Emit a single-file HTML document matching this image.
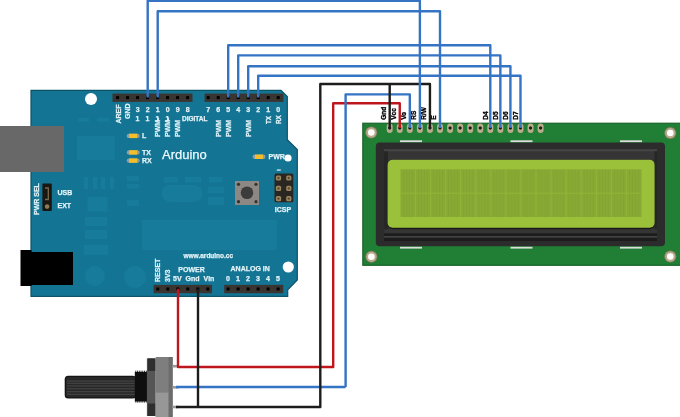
<!DOCTYPE html>
<html><head><meta charset="utf-8">
<style>
html,body{margin:0;padding:0;background:#fff;width:680px;height:417px;overflow:hidden}
svg{display:block;font-family:"Liberation Sans",sans-serif;filter:blur(0.35px)}
</style></head><body>
<svg width="680" height="417" viewBox="0 0 680 417">
<rect width="680" height="417" fill="#fff"/>
<polygon points="31,90.3 281,90.3 287.3,96.6 287.3,139.7 297.3,149.5 297.3,280 287.7,289.8 287.7,296.3 31,296.3" fill="#137493" stroke="#0d5366" stroke-width="1.2"/>
<rect x="76.8" y="136" width="38" height="24" fill="#177c9b"/>
<rect x="78" y="118" width="11" height="3.6" fill="#177c9b"/>
<rect x="97" y="118" width="12" height="3.6" fill="#177c9b"/>
<rect x="84" y="177" width="4" height="12" fill="#177c9b"/>
<rect x="93" y="177" width="4" height="12" fill="#177c9b"/>
<rect x="101" y="177" width="4" height="12" fill="#177c9b"/>
<rect x="110" y="177" width="4" height="12" fill="#177c9b"/>
<rect x="87.5" y="197" width="20" height="14.6" fill="#177c9b"/>
<rect x="85" y="217" width="22" height="9" fill="#177c9b"/>
<rect x="85" y="230" width="22" height="9" fill="#177c9b"/>
<rect x="84" y="244.6" width="24" height="10" fill="#177c9b"/>
<rect x="141.7" y="220" width="135" height="30" fill="#177c9b"/>
<rect x="127" y="176" width="12" height="5" fill="#177c9b"/>
<rect x="127" y="184" width="12" height="4.5" fill="#177c9b"/>
<rect x="127" y="199.7" width="12" height="6.3" fill="#177c9b"/>
<rect x="164" y="177" width="13.5" height="5.5" fill="#177c9b"/>
<rect x="185" y="177" width="16" height="5.5" fill="#177c9b"/>
<rect x="209" y="177" width="13.5" height="5.5" fill="#177c9b"/>
<rect x="208" y="186.5" width="16" height="6.5" fill="#177c9b"/>
<rect x="208" y="197" width="16" height="8" fill="#177c9b"/>
<rect x="161.6" y="185" width="41" height="17" rx="8.5" fill="#177c9b"/>
<circle cx="95" cy="276" r="10" fill="#177c9b"/>
<circle cx="135" cy="277" r="11" fill="#177c9b"/>
<rect x="0" y="126" width="64" height="46" fill="#686868"/>
<rect x="20.5" y="250" width="11" height="36" fill="#000"/>
<rect x="31" y="252" width="42" height="33" fill="#000"/>
<circle cx="91" cy="99" r="6" fill="#fff"/>
<circle cx="288" cy="158" r="3.6" fill="#fff"/>
<circle cx="288.3" cy="267" r="5.6" fill="#fff"/>
<rect x="112.5" y="93.6" width="80" height="8.3" fill="#3a3531"/>
<rect x="116.1" y="96.1" width="3" height="3" fill="#000"/>
<rect x="126.1" y="96.1" width="3" height="3" fill="#000"/>
<rect x="136.1" y="96.1" width="3" height="3" fill="#000"/>
<rect x="146.1" y="96.1" width="3" height="3" fill="#000"/>
<rect x="156.1" y="96.1" width="3" height="3" fill="#000"/>
<rect x="166.1" y="96.1" width="3" height="3" fill="#000"/>
<rect x="176.1" y="96.1" width="3" height="3" fill="#000"/>
<rect x="186.1" y="96.1" width="3" height="3" fill="#000"/>
<rect x="204.6" y="93.6" width="78.8" height="8.3" fill="#3a3531"/>
<rect x="206.7" y="96.1" width="3" height="3" fill="#000"/>
<rect x="216.7" y="96.1" width="3" height="3" fill="#000"/>
<rect x="226.7" y="96.1" width="3" height="3" fill="#000"/>
<rect x="236.7" y="96.1" width="3" height="3" fill="#000"/>
<rect x="246.7" y="96.1" width="3" height="3" fill="#000"/>
<rect x="256.7" y="96.1" width="3" height="3" fill="#000"/>
<rect x="266.7" y="96.1" width="3" height="3" fill="#000"/>
<rect x="276.7" y="96.1" width="3" height="3" fill="#000"/>
<rect x="153.6" y="284.9" width="58.4" height="8.3" fill="#3a3531"/>
<rect x="156.3" y="287.5" width="3" height="3" fill="#000"/>
<rect x="166.3" y="287.5" width="3" height="3" fill="#000"/>
<rect x="176.3" y="287.5" width="3" height="3" fill="#000"/>
<rect x="186.3" y="287.5" width="3" height="3" fill="#000"/>
<rect x="196.3" y="287.5" width="3" height="3" fill="#000"/>
<rect x="206.3" y="287.5" width="3" height="3" fill="#000"/>
<rect x="224.2" y="284.9" width="59" height="8.3" fill="#3a3531"/>
<rect x="226.6" y="287.5" width="3" height="3" fill="#000"/>
<rect x="236.6" y="287.5" width="3" height="3" fill="#000"/>
<rect x="246.6" y="287.5" width="3" height="3" fill="#000"/>
<rect x="256.6" y="287.5" width="3" height="3" fill="#000"/>
<rect x="266.6" y="287.5" width="3" height="3" fill="#000"/>
<rect x="276.6" y="287.5" width="3" height="3" fill="#000"/>
<text transform="translate(121.2,123.5) rotate(-90)" font-size="7" font-weight="bold" fill="#e2f3f8" stroke="#e2f3f8" stroke-width="0.25" text-anchor="start">AREF</text>
<text transform="translate(130.2,119) rotate(-90)" font-size="7" font-weight="bold" fill="#e2f3f8" stroke="#e2f3f8" stroke-width="0.25" text-anchor="start">GND</text>
<text x="137.6" y="112" font-size="7" font-weight="bold" fill="#e2f3f8" stroke="#e2f3f8" stroke-width="0.25" text-anchor="middle">3</text>
<text x="147.6" y="112" font-size="7" font-weight="bold" fill="#e2f3f8" stroke="#e2f3f8" stroke-width="0.25" text-anchor="middle">2</text>
<text x="157.6" y="112" font-size="7" font-weight="bold" fill="#e2f3f8" stroke="#e2f3f8" stroke-width="0.25" text-anchor="middle">1</text>
<text x="167.6" y="112" font-size="7" font-weight="bold" fill="#e2f3f8" stroke="#e2f3f8" stroke-width="0.25" text-anchor="middle">0</text>
<text x="177.6" y="112" font-size="7" font-weight="bold" fill="#e2f3f8" stroke="#e2f3f8" stroke-width="0.25" text-anchor="middle">9</text>
<text x="187.6" y="112" font-size="7" font-weight="bold" fill="#e2f3f8" stroke="#e2f3f8" stroke-width="0.25" text-anchor="middle">8</text>
<text x="137.5" y="121" font-size="7" font-weight="bold" fill="#e2f3f8" stroke="#e2f3f8" stroke-width="0.25" text-anchor="middle">1</text>
<text x="147.5" y="121" font-size="7" font-weight="bold" fill="#e2f3f8" stroke="#e2f3f8" stroke-width="0.25" text-anchor="middle">1</text>
<text x="157.5" y="121" font-size="7" font-weight="bold" fill="#e2f3f8" stroke="#e2f3f8" stroke-width="0.25" text-anchor="middle">1</text>
<text x="167.5" y="121" font-size="7" font-weight="bold" fill="#e2f3f8" stroke="#e2f3f8" stroke-width="0.25" text-anchor="middle">1</text>
<text transform="translate(159.5,137) rotate(-90)" font-size="7" font-weight="bold" fill="#e2f3f8" stroke="#e2f3f8" stroke-width="0.25" text-anchor="start">PWM-</text>
<text transform="translate(169.5,137) rotate(-90)" font-size="7" font-weight="bold" fill="#e2f3f8" stroke="#e2f3f8" stroke-width="0.25" text-anchor="start">PWM-</text>
<text transform="translate(179.5,137) rotate(-90)" font-size="7" font-weight="bold" fill="#e2f3f8" stroke="#e2f3f8" stroke-width="0.25" text-anchor="start">PWM</text>
<text x="182" y="121" font-size="6.5" font-weight="bold" fill="#e2f3f8" stroke="#e2f3f8" stroke-width="0.25" text-anchor="start">DIGITAL</text>
<text x="208.2" y="112" font-size="7" font-weight="bold" fill="#e2f3f8" stroke="#e2f3f8" stroke-width="0.25" text-anchor="middle">7</text>
<text x="218.2" y="112" font-size="7" font-weight="bold" fill="#e2f3f8" stroke="#e2f3f8" stroke-width="0.25" text-anchor="middle">6</text>
<text x="228.2" y="112" font-size="7" font-weight="bold" fill="#e2f3f8" stroke="#e2f3f8" stroke-width="0.25" text-anchor="middle">5</text>
<text x="238.2" y="112" font-size="7" font-weight="bold" fill="#e2f3f8" stroke="#e2f3f8" stroke-width="0.25" text-anchor="middle">4</text>
<text x="248.2" y="112" font-size="7" font-weight="bold" fill="#e2f3f8" stroke="#e2f3f8" stroke-width="0.25" text-anchor="middle">3</text>
<text x="258.2" y="112" font-size="7" font-weight="bold" fill="#e2f3f8" stroke="#e2f3f8" stroke-width="0.25" text-anchor="middle">2</text>
<text x="268.2" y="112" font-size="7" font-weight="bold" fill="#e2f3f8" stroke="#e2f3f8" stroke-width="0.25" text-anchor="middle">1</text>
<text x="278.2" y="112" font-size="7" font-weight="bold" fill="#e2f3f8" stroke="#e2f3f8" stroke-width="0.25" text-anchor="middle">0</text>
<text transform="translate(220.8,137) rotate(-90)" font-size="7" font-weight="bold" fill="#e2f3f8" stroke="#e2f3f8" stroke-width="0.25" text-anchor="start">PWM</text>
<text transform="translate(230.8,137) rotate(-90)" font-size="7" font-weight="bold" fill="#e2f3f8" stroke="#e2f3f8" stroke-width="0.25" text-anchor="start">PWM</text>
<text transform="translate(250.8,137) rotate(-90)" font-size="7" font-weight="bold" fill="#e2f3f8" stroke="#e2f3f8" stroke-width="0.25" text-anchor="start">PWM</text>
<text transform="translate(271,124) rotate(-90)" font-size="6.3" font-weight="bold" fill="#e2f3f8" stroke="#e2f3f8" stroke-width="0.25" text-anchor="start">TX</text>
<text transform="translate(281,124) rotate(-90)" font-size="6.3" font-weight="bold" fill="#e2f3f8" stroke="#e2f3f8" stroke-width="0.25" text-anchor="start">RX</text>
<rect x="126.7" y="133.70000000000002" width="13" height="4.4" rx="2.2" fill="#8d9ea3"/>
<rect x="129.2" y="133.70000000000002" width="8" height="4.4" fill="#f4bd2a"/>
<text x="142" y="138" font-size="7" font-weight="bold" fill="#e2f3f8" stroke="#e2f3f8" stroke-width="0.25" text-anchor="start">L</text>
<rect x="126.7" y="150.20000000000002" width="13" height="4.4" rx="2.2" fill="#8d9ea3"/>
<rect x="129.2" y="150.20000000000002" width="8" height="4.4" fill="#f4bd2a"/>
<text x="142" y="155" font-size="7" font-weight="bold" fill="#e2f3f8" stroke="#e2f3f8" stroke-width="0.25" text-anchor="start">TX</text>
<rect x="126.7" y="158.4" width="13" height="4.4" rx="2.2" fill="#8d9ea3"/>
<rect x="129.2" y="158.4" width="8" height="4.4" fill="#f4bd2a"/>
<text x="142" y="163" font-size="7" font-weight="bold" fill="#e2f3f8" stroke="#e2f3f8" stroke-width="0.25" text-anchor="start">RX</text>
<rect x="252.5" y="154.60000000000002" width="13" height="4.4" rx="2.2" fill="#8d9ea3"/>
<rect x="255.0" y="154.60000000000002" width="8" height="4.4" fill="#f4bd2a"/>
<text x="268.5" y="159" font-size="7" font-weight="bold" fill="#e2f3f8" stroke="#e2f3f8" stroke-width="0.25" text-anchor="start">PWR</text>
<text x="162" y="159" font-size="13" fill="#eefaff" stroke="#eefaff" stroke-width="0.25">Arduino</text>
<rect x="235" y="181" width="24" height="24" fill="#8d8883"/>
<circle cx="238.5" cy="184.3" r="1.6" fill="#333"/>
<circle cx="256" cy="184.3" r="1.6" fill="#333"/>
<circle cx="238.5" cy="201.7" r="1.6" fill="#333"/>
<circle cx="256" cy="201.7" r="1.6" fill="#333"/>
<circle cx="247" cy="192.8" r="6.3" fill="#3c3c3c"/>
<rect x="274.5" y="173.6" width="18.8" height="28.6" rx="1.5" fill="#2a2723"/>
<rect x="275.9" y="175.4" width="5.2" height="5.2" rx="1.5" fill="#9c8660"/>
<circle cx="278.5" cy="178" r="1.2" fill="#5a4a35"/>
<rect x="275.9" y="185.8" width="5.2" height="5.2" rx="1.5" fill="#9c8660"/>
<circle cx="278.5" cy="188.4" r="1.2" fill="#5a4a35"/>
<rect x="275.9" y="196.0" width="5.2" height="5.2" rx="1.5" fill="#9c8660"/>
<circle cx="278.5" cy="198.6" r="1.2" fill="#5a4a35"/>
<rect x="286.2" y="175.4" width="5.2" height="5.2" rx="1.5" fill="#9c8660"/>
<circle cx="288.8" cy="178" r="1.2" fill="#5a4a35"/>
<rect x="286.2" y="185.8" width="5.2" height="5.2" rx="1.5" fill="#9c8660"/>
<circle cx="288.8" cy="188.4" r="1.2" fill="#5a4a35"/>
<rect x="286.2" y="196.0" width="5.2" height="5.2" rx="1.5" fill="#9c8660"/>
<circle cx="288.8" cy="198.6" r="1.2" fill="#5a4a35"/>
<rect x="276.8" y="169.4" width="4" height="1.3" fill="#d8ecf2"/>
<text x="283" y="211.5" font-size="7" font-weight="bold" fill="#e2f3f8" stroke="#e2f3f8" stroke-width="0.25" text-anchor="middle">ICSP</text>
<text transform="translate(39.2,215) rotate(-90)" font-size="7" font-weight="bold" fill="#e2f3f8" stroke="#e2f3f8" stroke-width="0.25" text-anchor="start">PWR SEL</text>
<rect x="42.4" y="183.6" width="9.4" height="27.4" rx="1" fill="#1a1612"/>
<path d="M45,188 H48.3 V199.5 H45" fill="none" stroke="#7a6850" stroke-width="1.3"/>
<circle cx="47.1" cy="206.6" r="2.3" fill="#8f7a58"/>
<text x="57.5" y="195" font-size="7" font-weight="bold" fill="#e2f3f8" stroke="#e2f3f8" stroke-width="0.25" text-anchor="start">USB</text>
<text x="57.5" y="208" font-size="7" font-weight="bold" fill="#e2f3f8" stroke="#e2f3f8" stroke-width="0.25" text-anchor="start">EXT</text>
<text x="183.5" y="257.5" font-size="6.5" font-weight="bold" fill="#e2f3f8" stroke="#e2f3f8" stroke-width="0.25" text-anchor="start">www.arduino.cc</text>
<text transform="translate(160,282) rotate(-90)" font-size="7" font-weight="bold" fill="#e2f3f8" stroke="#e2f3f8" stroke-width="0.25" text-anchor="start">RESET</text>
<text transform="translate(170,282) rotate(-90)" font-size="7" font-weight="bold" fill="#e2f3f8" stroke="#e2f3f8" stroke-width="0.25" text-anchor="start">3V3</text>
<text x="191.5" y="271.5" font-size="7" font-weight="bold" fill="#e2f3f8" stroke="#e2f3f8" stroke-width="0.25" text-anchor="middle">POWER</text>
<text x="177.3" y="281.3" font-size="7" font-weight="bold" fill="#e2f3f8" stroke="#e2f3f8" stroke-width="0.25" text-anchor="middle">5V</text>
<text x="192.5" y="281.3" font-size="7" font-weight="bold" fill="#e2f3f8" stroke="#e2f3f8" stroke-width="0.25" text-anchor="middle">Gnd</text>
<text x="209" y="281.3" font-size="7" font-weight="bold" fill="#e2f3f8" stroke="#e2f3f8" stroke-width="0.25" text-anchor="middle">Vin</text>
<text x="250.2" y="270.8" font-size="7" font-weight="bold" fill="#e2f3f8" stroke="#e2f3f8" stroke-width="0.25" text-anchor="middle">ANALOG IN</text>
<text x="227.9" y="281.2" font-size="7" font-weight="bold" fill="#e2f3f8" stroke="#e2f3f8" stroke-width="0.25" text-anchor="middle">0</text>
<text x="237.9" y="281.2" font-size="7" font-weight="bold" fill="#e2f3f8" stroke="#e2f3f8" stroke-width="0.25" text-anchor="middle">1</text>
<text x="247.9" y="281.2" font-size="7" font-weight="bold" fill="#e2f3f8" stroke="#e2f3f8" stroke-width="0.25" text-anchor="middle">2</text>
<text x="257.9" y="281.2" font-size="7" font-weight="bold" fill="#e2f3f8" stroke="#e2f3f8" stroke-width="0.25" text-anchor="middle">3</text>
<text x="267.9" y="281.2" font-size="7" font-weight="bold" fill="#e2f3f8" stroke="#e2f3f8" stroke-width="0.25" text-anchor="middle">4</text>
<text x="277.9" y="281.2" font-size="7" font-weight="bold" fill="#e2f3f8" stroke="#e2f3f8" stroke-width="0.25" text-anchor="middle">5</text>
<rect x="362.8" y="123.2" width="320" height="142.1" fill="#207e35" stroke="#155f24" stroke-width="1.1"/>
<circle cx="371.3" cy="132.5" r="6" fill="#8a7d62"/>
<circle cx="371.3" cy="132.5" r="5.2" fill="#b8a98a"/>
<circle cx="371.3" cy="132.5" r="3.3" fill="#fff"/>
<circle cx="371.4" cy="256.7" r="6" fill="#8a7d62"/>
<circle cx="371.4" cy="256.7" r="5.2" fill="#b8a98a"/>
<circle cx="371.4" cy="256.7" r="3.3" fill="#fff"/>
<circle cx="670.3" cy="256.5" r="6" fill="#8a7d62"/>
<circle cx="670.3" cy="256.5" r="5.2" fill="#b8a98a"/>
<circle cx="670.3" cy="256.5" r="3.3" fill="#fff"/>
<circle cx="670.3" cy="133" r="6" fill="#8a7d62"/>
<circle cx="670.3" cy="133" r="5.2" fill="#b8a98a"/>
<circle cx="670.3" cy="133" r="3.3" fill="#fff"/>
<rect x="386.7" y="123.6" width="6" height="9.4" rx="3" fill="#b7ab88"/>
<circle cx="389.7" cy="128" r="2.2" fill="#d0c8a8"/>
<circle cx="389.7" cy="128" r="1.7" fill="#1a1a1a"/>
<rect x="396.76" y="123.6" width="6" height="9.4" rx="3" fill="#b7ab88"/>
<circle cx="399.76" cy="128" r="2.2" fill="#d0c8a8"/>
<circle cx="399.76" cy="128" r="1.7" fill="#1a1a1a"/>
<rect x="406.82" y="123.6" width="6" height="9.4" rx="3" fill="#b7ab88"/>
<circle cx="409.82" cy="128" r="2.2" fill="#d0c8a8"/>
<circle cx="409.82" cy="128" r="1.7" fill="#1a1a1a"/>
<rect x="416.88" y="123.6" width="6" height="9.4" rx="3" fill="#b7ab88"/>
<circle cx="419.88" cy="128" r="2.2" fill="#d0c8a8"/>
<circle cx="419.88" cy="128" r="1.7" fill="#1a1a1a"/>
<rect x="426.94" y="123.6" width="6" height="9.4" rx="3" fill="#b7ab88"/>
<circle cx="429.94" cy="128" r="2.2" fill="#d0c8a8"/>
<circle cx="429.94" cy="128" r="1.7" fill="#1a1a1a"/>
<rect x="437.0" y="123.6" width="6" height="9.4" rx="3" fill="#b7ab88"/>
<circle cx="440.0" cy="128" r="2.2" fill="#d0c8a8"/>
<circle cx="440.0" cy="128" r="1.7" fill="#1a1a1a"/>
<rect x="447.06" y="123.6" width="6" height="9.4" rx="3" fill="#b7ab88"/>
<circle cx="450.06" cy="128" r="2.2" fill="#d0c8a8"/>
<circle cx="450.06" cy="128" r="1.7" fill="#1a1a1a"/>
<rect x="457.12" y="123.6" width="6" height="9.4" rx="3" fill="#b7ab88"/>
<circle cx="460.12" cy="128" r="2.2" fill="#d0c8a8"/>
<circle cx="460.12" cy="128" r="1.7" fill="#1a1a1a"/>
<rect x="467.18" y="123.6" width="6" height="9.4" rx="3" fill="#b7ab88"/>
<circle cx="470.18" cy="128" r="2.2" fill="#d0c8a8"/>
<circle cx="470.18" cy="128" r="1.7" fill="#1a1a1a"/>
<rect x="477.24" y="123.6" width="6" height="9.4" rx="3" fill="#b7ab88"/>
<circle cx="480.24" cy="128" r="2.2" fill="#d0c8a8"/>
<circle cx="480.24" cy="128" r="1.7" fill="#1a1a1a"/>
<rect x="487.3" y="123.6" width="6" height="9.4" rx="3" fill="#b7ab88"/>
<circle cx="490.3" cy="128" r="2.2" fill="#d0c8a8"/>
<circle cx="490.3" cy="128" r="1.7" fill="#1a1a1a"/>
<rect x="497.36" y="123.6" width="6" height="9.4" rx="3" fill="#b7ab88"/>
<circle cx="500.36" cy="128" r="2.2" fill="#d0c8a8"/>
<circle cx="500.36" cy="128" r="1.7" fill="#1a1a1a"/>
<rect x="507.42" y="123.6" width="6" height="9.4" rx="3" fill="#b7ab88"/>
<circle cx="510.42" cy="128" r="2.2" fill="#d0c8a8"/>
<circle cx="510.42" cy="128" r="1.7" fill="#1a1a1a"/>
<rect x="517.48" y="123.6" width="6" height="9.4" rx="3" fill="#b7ab88"/>
<circle cx="520.48" cy="128" r="2.2" fill="#d0c8a8"/>
<circle cx="520.48" cy="128" r="1.7" fill="#1a1a1a"/>
<rect x="527.54" y="123.6" width="6" height="9.4" rx="3" fill="#b7ab88"/>
<circle cx="530.54" cy="128" r="2.2" fill="#d0c8a8"/>
<circle cx="530.54" cy="128" r="1.7" fill="#1a1a1a"/>
<rect x="537.6" y="123.6" width="6" height="9.4" rx="3" fill="#b7ab88"/>
<circle cx="540.6" cy="128" r="2.2" fill="#d0c8a8"/>
<circle cx="540.6" cy="128" r="1.7" fill="#1a1a1a"/>
<rect x="375.8" y="142.5" width="289.2" height="103.8" rx="4" fill="#2c2c2c"/>
<rect x="384" y="149.3" width="273" height="91.7" fill="#353535"/>
<rect x="384" y="149.3" width="273" height="2" fill="#454545"/>
<rect x="384" y="151.3" width="4" height="78" fill="#262626"/>
<rect x="654.5" y="151.3" width="2.5" height="78" fill="#262626"/>
<rect x="384" y="233.3" width="273" height="3" fill="#1c1c1c"/>
<rect x="384" y="236.3" width="273" height="1.4" fill="#4a4a4a"/>
<rect x="384" y="237.7" width="273" height="3.3" fill="#1c1c1c"/>
<rect x="387.6" y="159.7" width="267" height="69.6" rx="5" fill="#1a1a1a"/>
<rect x="387.6" y="159.7" width="267" height="68" rx="5" fill="#9bc13a"/>
<rect x="400.5" y="169.4" width="241" height="47.6" fill="#88a934"/>
<rect x="400.0" y="169.4" width="1" height="47.6" fill="#92b438"/>
<rect x="415.06" y="169.4" width="1" height="47.6" fill="#92b438"/>
<rect x="430.12" y="169.4" width="1" height="47.6" fill="#92b438"/>
<rect x="445.18" y="169.4" width="1" height="47.6" fill="#92b438"/>
<rect x="460.24" y="169.4" width="1" height="47.6" fill="#92b438"/>
<rect x="475.3" y="169.4" width="1" height="47.6" fill="#92b438"/>
<rect x="490.36" y="169.4" width="1" height="47.6" fill="#92b438"/>
<rect x="505.42" y="169.4" width="1" height="47.6" fill="#92b438"/>
<rect x="520.48" y="169.4" width="1" height="47.6" fill="#92b438"/>
<rect x="535.54" y="169.4" width="1" height="47.6" fill="#92b438"/>
<rect x="550.6" y="169.4" width="1" height="47.6" fill="#92b438"/>
<rect x="565.66" y="169.4" width="1" height="47.6" fill="#92b438"/>
<rect x="580.72" y="169.4" width="1" height="47.6" fill="#92b438"/>
<rect x="595.78" y="169.4" width="1" height="47.6" fill="#92b438"/>
<rect x="610.84" y="169.4" width="1" height="47.6" fill="#92b438"/>
<rect x="625.9" y="169.4" width="1" height="47.6" fill="#92b438"/>
<rect x="640.96" y="169.4" width="1" height="47.6" fill="#92b438"/>
<rect x="403.25" y="169.4" width="0.5" height="47.6" fill="#7e9e31" opacity="0.6"/>
<rect x="406.25" y="169.4" width="0.5" height="47.6" fill="#7e9e31" opacity="0.6"/>
<rect x="409.25" y="169.4" width="0.5" height="47.6" fill="#7e9e31" opacity="0.6"/>
<rect x="412.25" y="169.4" width="0.5" height="47.6" fill="#7e9e31" opacity="0.6"/>
<rect x="418.31" y="169.4" width="0.5" height="47.6" fill="#7e9e31" opacity="0.6"/>
<rect x="421.31" y="169.4" width="0.5" height="47.6" fill="#7e9e31" opacity="0.6"/>
<rect x="424.31" y="169.4" width="0.5" height="47.6" fill="#7e9e31" opacity="0.6"/>
<rect x="427.31" y="169.4" width="0.5" height="47.6" fill="#7e9e31" opacity="0.6"/>
<rect x="433.37" y="169.4" width="0.5" height="47.6" fill="#7e9e31" opacity="0.6"/>
<rect x="436.37" y="169.4" width="0.5" height="47.6" fill="#7e9e31" opacity="0.6"/>
<rect x="439.37" y="169.4" width="0.5" height="47.6" fill="#7e9e31" opacity="0.6"/>
<rect x="442.37" y="169.4" width="0.5" height="47.6" fill="#7e9e31" opacity="0.6"/>
<rect x="448.43" y="169.4" width="0.5" height="47.6" fill="#7e9e31" opacity="0.6"/>
<rect x="451.43" y="169.4" width="0.5" height="47.6" fill="#7e9e31" opacity="0.6"/>
<rect x="454.43" y="169.4" width="0.5" height="47.6" fill="#7e9e31" opacity="0.6"/>
<rect x="457.43" y="169.4" width="0.5" height="47.6" fill="#7e9e31" opacity="0.6"/>
<rect x="463.49" y="169.4" width="0.5" height="47.6" fill="#7e9e31" opacity="0.6"/>
<rect x="466.49" y="169.4" width="0.5" height="47.6" fill="#7e9e31" opacity="0.6"/>
<rect x="469.49" y="169.4" width="0.5" height="47.6" fill="#7e9e31" opacity="0.6"/>
<rect x="472.49" y="169.4" width="0.5" height="47.6" fill="#7e9e31" opacity="0.6"/>
<rect x="478.55" y="169.4" width="0.5" height="47.6" fill="#7e9e31" opacity="0.6"/>
<rect x="481.55" y="169.4" width="0.5" height="47.6" fill="#7e9e31" opacity="0.6"/>
<rect x="484.55" y="169.4" width="0.5" height="47.6" fill="#7e9e31" opacity="0.6"/>
<rect x="487.55" y="169.4" width="0.5" height="47.6" fill="#7e9e31" opacity="0.6"/>
<rect x="493.61" y="169.4" width="0.5" height="47.6" fill="#7e9e31" opacity="0.6"/>
<rect x="496.61" y="169.4" width="0.5" height="47.6" fill="#7e9e31" opacity="0.6"/>
<rect x="499.61" y="169.4" width="0.5" height="47.6" fill="#7e9e31" opacity="0.6"/>
<rect x="502.61" y="169.4" width="0.5" height="47.6" fill="#7e9e31" opacity="0.6"/>
<rect x="508.67" y="169.4" width="0.5" height="47.6" fill="#7e9e31" opacity="0.6"/>
<rect x="511.67" y="169.4" width="0.5" height="47.6" fill="#7e9e31" opacity="0.6"/>
<rect x="514.6700000000001" y="169.4" width="0.5" height="47.6" fill="#7e9e31" opacity="0.6"/>
<rect x="517.6700000000001" y="169.4" width="0.5" height="47.6" fill="#7e9e31" opacity="0.6"/>
<rect x="523.73" y="169.4" width="0.5" height="47.6" fill="#7e9e31" opacity="0.6"/>
<rect x="526.73" y="169.4" width="0.5" height="47.6" fill="#7e9e31" opacity="0.6"/>
<rect x="529.73" y="169.4" width="0.5" height="47.6" fill="#7e9e31" opacity="0.6"/>
<rect x="532.73" y="169.4" width="0.5" height="47.6" fill="#7e9e31" opacity="0.6"/>
<rect x="538.79" y="169.4" width="0.5" height="47.6" fill="#7e9e31" opacity="0.6"/>
<rect x="541.79" y="169.4" width="0.5" height="47.6" fill="#7e9e31" opacity="0.6"/>
<rect x="544.79" y="169.4" width="0.5" height="47.6" fill="#7e9e31" opacity="0.6"/>
<rect x="547.79" y="169.4" width="0.5" height="47.6" fill="#7e9e31" opacity="0.6"/>
<rect x="553.85" y="169.4" width="0.5" height="47.6" fill="#7e9e31" opacity="0.6"/>
<rect x="556.85" y="169.4" width="0.5" height="47.6" fill="#7e9e31" opacity="0.6"/>
<rect x="559.85" y="169.4" width="0.5" height="47.6" fill="#7e9e31" opacity="0.6"/>
<rect x="562.85" y="169.4" width="0.5" height="47.6" fill="#7e9e31" opacity="0.6"/>
<rect x="568.91" y="169.4" width="0.5" height="47.6" fill="#7e9e31" opacity="0.6"/>
<rect x="571.91" y="169.4" width="0.5" height="47.6" fill="#7e9e31" opacity="0.6"/>
<rect x="574.91" y="169.4" width="0.5" height="47.6" fill="#7e9e31" opacity="0.6"/>
<rect x="577.91" y="169.4" width="0.5" height="47.6" fill="#7e9e31" opacity="0.6"/>
<rect x="583.97" y="169.4" width="0.5" height="47.6" fill="#7e9e31" opacity="0.6"/>
<rect x="586.97" y="169.4" width="0.5" height="47.6" fill="#7e9e31" opacity="0.6"/>
<rect x="589.97" y="169.4" width="0.5" height="47.6" fill="#7e9e31" opacity="0.6"/>
<rect x="592.97" y="169.4" width="0.5" height="47.6" fill="#7e9e31" opacity="0.6"/>
<rect x="599.03" y="169.4" width="0.5" height="47.6" fill="#7e9e31" opacity="0.6"/>
<rect x="602.03" y="169.4" width="0.5" height="47.6" fill="#7e9e31" opacity="0.6"/>
<rect x="605.03" y="169.4" width="0.5" height="47.6" fill="#7e9e31" opacity="0.6"/>
<rect x="608.03" y="169.4" width="0.5" height="47.6" fill="#7e9e31" opacity="0.6"/>
<rect x="614.09" y="169.4" width="0.5" height="47.6" fill="#7e9e31" opacity="0.6"/>
<rect x="617.09" y="169.4" width="0.5" height="47.6" fill="#7e9e31" opacity="0.6"/>
<rect x="620.09" y="169.4" width="0.5" height="47.6" fill="#7e9e31" opacity="0.6"/>
<rect x="623.09" y="169.4" width="0.5" height="47.6" fill="#7e9e31" opacity="0.6"/>
<rect x="629.15" y="169.4" width="0.5" height="47.6" fill="#7e9e31" opacity="0.6"/>
<rect x="632.15" y="169.4" width="0.5" height="47.6" fill="#7e9e31" opacity="0.6"/>
<rect x="635.15" y="169.4" width="0.5" height="47.6" fill="#7e9e31" opacity="0.6"/>
<rect x="638.15" y="169.4" width="0.5" height="47.6" fill="#7e9e31" opacity="0.6"/>
<rect x="400.5" y="192.7" width="241" height="1" fill="#92b438"/>
<rect x="400" y="140.3" width="22" height="1.8" fill="#dcdcdc"/>
<rect x="400" y="246.8" width="22" height="1.8" fill="#dcdcdc"/>
<rect x="510.5" y="140.3" width="22" height="1.8" fill="#dcdcdc"/>
<rect x="510.5" y="246.8" width="22" height="1.8" fill="#dcdcdc"/>
<rect x="620" y="140.3" width="22" height="1.8" fill="#dcdcdc"/>
<rect x="620" y="246.8" width="22" height="1.8" fill="#dcdcdc"/>
<text transform="translate(385.9,119.8) rotate(-90)" font-size="6.5" font-weight="bold" fill="#000" stroke="#000" stroke-width="0.35" text-anchor="start">Gnd</text>
<text transform="translate(395.96,119.8) rotate(-90)" font-size="6.5" font-weight="bold" fill="#000" stroke="#000" stroke-width="0.35" text-anchor="start">Vcc</text>
<text transform="translate(406.02,119.8) rotate(-90)" font-size="6.5" font-weight="bold" fill="#000" stroke="#000" stroke-width="0.35" text-anchor="start">Vo</text>
<text transform="translate(416.08,119.8) rotate(-90)" font-size="6.5" font-weight="bold" fill="#000" stroke="#000" stroke-width="0.35" text-anchor="start">RS</text>
<text transform="translate(426.14,119.8) rotate(-90)" font-size="6.5" font-weight="bold" fill="#000" stroke="#000" stroke-width="0.35" text-anchor="start">R/W</text>
<text transform="translate(436.2,119.8) rotate(-90)" font-size="6.5" font-weight="bold" fill="#000" stroke="#000" stroke-width="0.35" text-anchor="start">E</text>
<text transform="translate(487.7,119.8) rotate(-90)" font-size="6.5" font-weight="bold" fill="#000" stroke="#000" stroke-width="0.35" text-anchor="start">D4</text>
<text transform="translate(497.76,119.8) rotate(-90)" font-size="6.5" font-weight="bold" fill="#000" stroke="#000" stroke-width="0.35" text-anchor="start">D5</text>
<text transform="translate(507.82,119.8) rotate(-90)" font-size="6.5" font-weight="bold" fill="#000" stroke="#000" stroke-width="0.35" text-anchor="start">D6</text>
<text transform="translate(517.8800000000001,119.8) rotate(-90)" font-size="6.5" font-weight="bold" fill="#000" stroke="#000" stroke-width="0.35" text-anchor="start">D7</text>
<rect x="64.7" y="375.8" width="71.5" height="22.7" rx="3.5" fill="#151515"/>
<rect x="66" y="377" width="70" height="20.3" rx="2.5" fill="#282828"/>
<rect x="67" y="380.6" width="69" height="0.9" fill="#4c4c4c"/>
<rect x="67" y="382.8" width="69" height="0.9" fill="#4c4c4c"/>
<rect x="67" y="385.5" width="69" height="0.9" fill="#4c4c4c"/>
<rect x="67" y="388.4" width="69" height="0.9" fill="#4c4c4c"/>
<rect x="67" y="391.3" width="69" height="0.9" fill="#4c4c4c"/>
<rect x="67" y="393.8" width="69" height="0.9" fill="#4c4c4c"/>
<rect x="134.8" y="372" width="12.2" height="29.5" fill="#0e0e0e"/>
<rect x="135.3" y="370.7" width="1" height="1.2" fill="#0e0e0e"/>
<rect x="135.3" y="401.3" width="1" height="1.2" fill="#0e0e0e"/>
<rect x="137.05" y="370.7" width="1" height="1.2" fill="#0e0e0e"/>
<rect x="137.05" y="401.3" width="1" height="1.2" fill="#0e0e0e"/>
<rect x="138.8" y="370.7" width="1" height="1.2" fill="#0e0e0e"/>
<rect x="138.8" y="401.3" width="1" height="1.2" fill="#0e0e0e"/>
<rect x="140.55" y="370.7" width="1" height="1.2" fill="#0e0e0e"/>
<rect x="140.55" y="401.3" width="1" height="1.2" fill="#0e0e0e"/>
<rect x="142.3" y="370.7" width="1" height="1.2" fill="#0e0e0e"/>
<rect x="142.3" y="401.3" width="1" height="1.2" fill="#0e0e0e"/>
<rect x="144.05" y="370.7" width="1" height="1.2" fill="#0e0e0e"/>
<rect x="144.05" y="401.3" width="1" height="1.2" fill="#0e0e0e"/>
<rect x="145.8" y="370.7" width="1" height="1.2" fill="#0e0e0e"/>
<rect x="145.8" y="401.3" width="1" height="1.2" fill="#0e0e0e"/>
<rect x="146.9" y="358.4" width="8.8" height="57.6" fill="#555"/>
<rect x="147.8" y="358.4" width="7.5" height="12.5" fill="#2e2e2e"/>
<rect x="147.8" y="403.5" width="7.5" height="12.5" fill="#2e2e2e"/>
<rect x="155.7" y="357" width="17" height="60" fill="#7e7e7e"/>
<rect x="155.7" y="392.6" width="13" height="24.4" fill="#979797"/>
<rect x="168.6" y="357" width="4" height="60" fill="#6c6c6c"/>
<rect x="172.6" y="364.9" width="6" height="2.6" fill="#9a9a9a"/>
<rect x="172.6" y="386.0" width="6" height="2.6" fill="#9a9a9a"/>
<rect x="172.6" y="405.7" width="6" height="2.6" fill="#9a9a9a"/>
<polyline points="178,288.7 178,367 333.2,367 333.2,103.2 399.76,103.2 399.76,128" fill="none" stroke="#bf161e" stroke-width="2.4" stroke-linejoin="round"/>
<polyline points="345.6,387 345.6,94.4 409.82,94.4 409.82,128" fill="none" stroke="#3574c4" stroke-width="2.4" stroke-linejoin="round"/>
<polyline points="176,387 345.6,387" fill="none" stroke="#3574c4" stroke-width="2.4" stroke-linejoin="round"/>
<polyline points="198,288.7 198,407" fill="none" stroke="#1c1c1c" stroke-width="2.4" stroke-linejoin="round"/>
<polyline points="176,407 320.3,407 320.3,84 429.94,84 429.94,128" fill="none" stroke="#1c1c1c" stroke-width="2.4" stroke-linejoin="round"/>
<polyline points="389.7,84 389.7,128" fill="none" stroke="#1c1c1c" stroke-width="2.4" stroke-linejoin="round"/>
<polyline points="147.7,97.6 147.7,0.8 419.88,0.8 419.88,128" fill="none" stroke="#3574c4" stroke-width="2.4" stroke-linejoin="round"/>
<polyline points="157.7,97.6 157.7,11.3 440.0,11.3 440.0,128" fill="none" stroke="#3574c4" stroke-width="2.4" stroke-linejoin="round"/>
<polyline points="228.2,97.6 228.2,45.2 490.3,45.2 490.3,128" fill="none" stroke="#3574c4" stroke-width="2.4" stroke-linejoin="round"/>
<polyline points="238.2,97.6 238.2,55.4 500.36,55.4 500.36,128" fill="none" stroke="#3574c4" stroke-width="2.4" stroke-linejoin="round"/>
<polyline points="248.2,97.6 248.2,66.2 510.42,66.2 510.42,128" fill="none" stroke="#3574c4" stroke-width="2.4" stroke-linejoin="round"/>
<polyline points="258.2,97.6 258.2,75.8 520.48,75.8 520.48,128" fill="none" stroke="#3574c4" stroke-width="2.4" stroke-linejoin="round"/>
</svg>
</body></html>
